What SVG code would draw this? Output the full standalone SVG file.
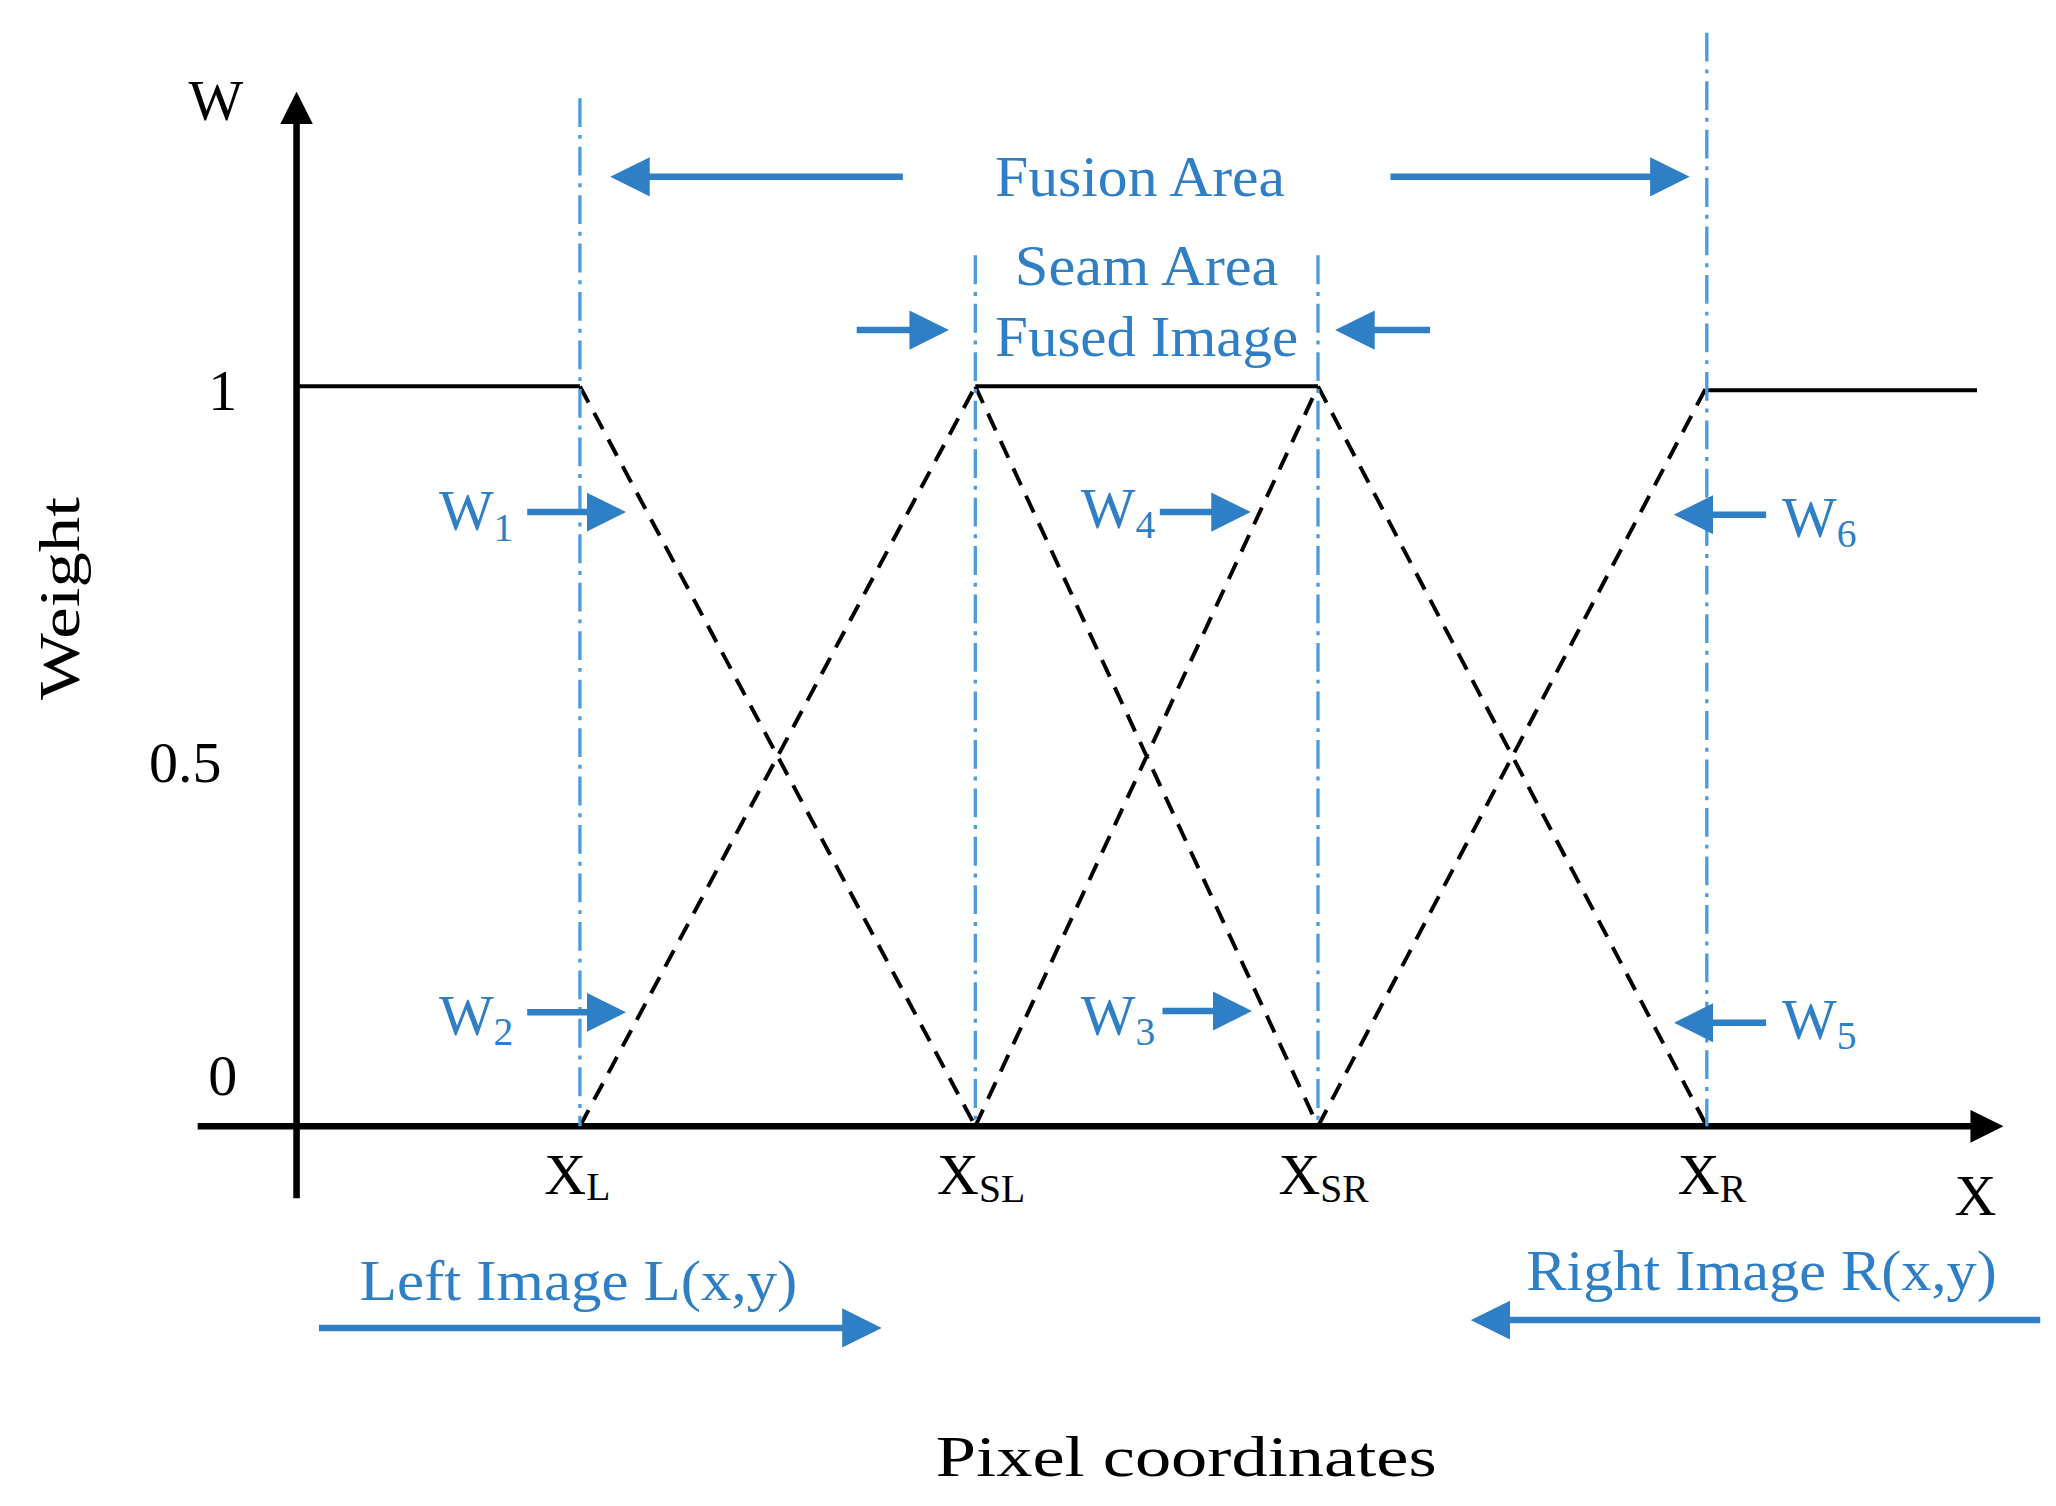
<svg xmlns="http://www.w3.org/2000/svg" width="2056" height="1506" viewBox="0 0 2056 1506">
<style>
text{font-family:"Liberation Serif",serif;font-size:44px}
.k{fill:#000}.b{fill:#2e7fc6}
.ax{stroke:#000;stroke-width:5;fill:none}
.sol{stroke:#000;stroke-width:3;fill:none}
.dsh{stroke:#000;stroke-width:3;stroke-dasharray:14 9;fill:none}
.dd{stroke:#4a9be0;stroke-width:2.5;stroke-dasharray:22 6 3 6;fill:none}
.ar{stroke:#2e7fc6;stroke-width:5;fill:none;marker-end:url(#bh)}
</style>
<defs>
<marker id="bh" markerWidth="6" markerHeight="6" refX="5" refY="3" orient="auto" markerUnits="strokeWidth"><path d="M0,0L6,3L0,6z" fill="#2e7fc6"/></marker>
<marker id="kh" markerWidth="5" markerHeight="5" refX="4" refY="2.5" orient="auto" markerUnits="strokeWidth"><path d="M0,0L5,2.5L0,5z" fill="#000"/></marker>
</defs>
<rect width="2056" height="1506" fill="#fff"/>
<g transform="scale(1.318 1.3096)">
<g id="axes">
<line class="ax" x1="225" y1="915" x2="225" y2="75" marker-end="url(#kh)"/>
<line class="ax" x1="150" y1="860" x2="1515" y2="860" marker-end="url(#kh)"/>
</g>
<g id="connectors">
<path class="sol" d="M225,295H440M740,295H1000M1295,298H1500"/>
<path class="dsh" d="M440,295L740,860M440,860L740,295M740,295L1000,860M740,860L1000,295M1000,295L1295,860M1000,860L1295,295"/>
<path class="dd" d="M440,75V860M740,195V860M1000,195V860M1295,25V860"/>
<line class="ar" x1="685" y1="135" x2="468" y2="135"/>
<line class="ar" x1="1055" y1="135" x2="1277" y2="135"/>
<line class="ar" x1="650" y1="252" x2="715" y2="252"/>
<line class="ar" x1="1085" y1="252" x2="1018" y2="252"/>
<line class="ar" x1="400" y1="391" x2="470" y2="391"/>
<line class="ar" x1="400" y1="773" x2="470" y2="773"/>
<line class="ar" x1="880" y1="391" x2="944" y2="391"/>
<line class="ar" x1="882" y1="772" x2="945" y2="772"/>
<line class="ar" x1="1340" y1="393" x2="1275" y2="393"/>
<line class="ar" x1="1340" y1="781" x2="1275" y2="781"/>
<line class="ar" x1="242" y1="1014" x2="664" y2="1014"/>
<line class="ar" x1="1548" y1="1008" x2="1121" y2="1008"/>
</g>
<g id="labels">
<text class="k" x="143" y="92" font-size="52">W</text>
<text class="k" x="158" y="313" font-size="50">1</text>
<text class="k" x="113" y="597" font-size="50">0.5</text>
<text class="k" x="158" y="836" font-size="50">0</text>
<text class="k" x="413" y="912" font-size="50">X<tspan font-size="30" dy="4">L</tspan></text>
<text class="k" x="711" y="912" font-size="50">X<tspan font-size="30" dy="6">SL</tspan></text>
<text class="k" x="970" y="912" font-size="50">X<tspan font-size="30" dy="6">SR</tspan></text>
<text class="k" x="1273" y="912" font-size="50">X<tspan font-size="30" dy="6">R</tspan></text>
<text class="k" x="1483" y="928" font-size="54">X</text>
<text class="k" transform="translate(60,457) rotate(-90)" text-anchor="middle" font-size="54" textLength="155" lengthAdjust="spacingAndGlyphs">Weight</text>
<text class="k" x="710" y="1127" font-size="54" textLength="380" lengthAdjust="spacingAndGlyphs">Pixel coordinates</text>
<text class="b" x="755" y="150" textLength="220" lengthAdjust="spacingAndGlyphs">Fusion Area</text>
<text class="b" x="770" y="218" textLength="200" lengthAdjust="spacingAndGlyphs">Seam  Area</text>
<text class="b" x="755" y="272" textLength="230" lengthAdjust="spacingAndGlyphs">Fused Image</text>
<text class="b" x="333" y="405">W<tspan font-size="30" dy="8">1</tspan></text>
<text class="b" x="333" y="790">W<tspan font-size="30" dy="8">2</tspan></text>
<text class="b" x="820" y="403">W<tspan font-size="30" dy="8">4</tspan></text>
<text class="b" x="820" y="790">W<tspan font-size="30" dy="8">3</tspan></text>
<text class="b" x="1352" y="410">W<tspan font-size="30" dy="8">6</tspan></text>
<text class="b" x="1352" y="793">W<tspan font-size="30" dy="8">5</tspan></text>
<text class="b" x="273" y="993" textLength="332" lengthAdjust="spacingAndGlyphs">Left Image  L(x,y)</text>
<text class="b" x="1158" y="985" textLength="357" lengthAdjust="spacingAndGlyphs">Right Image  R(x,y)</text>
</g>
</g>
</svg>
